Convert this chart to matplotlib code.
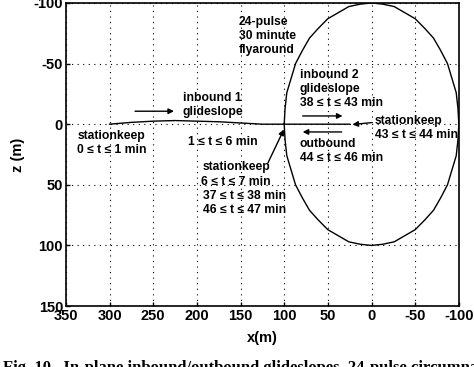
import matplotlib
matplotlib.use("Agg")
import matplotlib.pyplot as plt

# glideslope trajectory (inbound 1 then inbound 2)
glide_x = [300, 275, 250, 225, 200, 175, 150, 125, 100, 75, 50, 25]
glide_z = [0, -1.5, -2.5, -3, -2.5, -2, -1, 0, 0, 0, 0, 0]

# flyaround loop
loop_x = [100, 99, 97, 92, 87, 79, 71, 61, 50, 38, 26, 13, 0, -13, -26, -38, -50, -61, -71, -79,
          -87, -92, -97, -99, -100, -99, -97, -92, -87, -79, -71, -61, -50, -38, -26, -13, 0,
          13, 26, 38, 50, 61, 71, 79, 87, 92, 97, 99, 100]
loop_z = [0, 13, 26, 38, 50, 61, 71, 79, 87, 92, 97, 99, 100, 99, 97, 92, 87, 79, 71, 61, 50,
          38, 26, 13, 0, -13, -26, -38, -50, -61, -71, -79, -87, -92, -97, -99, -100, -99, -97,
          -92, -87, -79, -71, -61, -50, -38, -26, -13, 0]

x_ticks = [350, 300, 250, 200, 150, 100, 50, 0, -50, -100]
x_tick_labels = ["350", "300", "250", "200", "150", "100", "50", "0", "-50", "-100"]
z_ticks = [-100, -50, 0, 50, 100, 150]
z_tick_labels = ["-100", "-50", "0", "50", "100", "150"]

plt.rcParams['font.family'] = ['Liberation Sans', 'DejaVu Sans']

fig = plt.figure(figsize=(4.74, 3.67), dpi=100)
ax = fig.add_axes([0.139, 0.166, 0.829, 0.826])

ax.plot(glide_x, glide_z, color='black', lw=1.0)
ax.plot(loop_x, loop_z, color='black', lw=1.0)

ax.set_xlim(350, -100)
ax.set_ylim(150, -100)
ax.set_xticks(x_ticks)
ax.set_xticklabels(x_tick_labels)
ax.set_yticks(z_ticks)
ax.set_yticklabels(z_tick_labels)
ax.tick_params(direction='in', labelsize=10.5, length=3, width=1, pad=2)
for lbl in ax.get_xticklabels() + ax.get_yticklabels():
    lbl.set_fontweight('bold')
ax.grid(True, color='black', linestyle=(0, (1, 4)), lw=0.8)
for s in ax.spines.values():
    s.set_linewidth(1.2)

ax.set_xlabel("x(m)", fontsize=10.5, fontweight='bold', labelpad=6)
ax.set_ylabel("z (m)", fontsize=10.5, fontweight='bold', labelpad=6)

fs = 8.7
kw = dict(fontsize=fs, fontweight='bold', ha='left', va='center', linespacing=1.45)
ax.text(152, -84, "24-pulse", **kw)
ax.text(152, -72.5, "30 minute", **kw)
ax.text(152, -61, "flyaround", **kw)
ax.text(216, -21.6, "inbound 1", **kw)
ax.text(216, -10, "glideslope", **kw)
ax.text(337, 9.7, "stationkeep", **kw)
ax.text(337, 21.3, "0 ≤ t ≤ 1 min", **kw)
ax.text(210, 14.7, "1 ≤ t ≤ 6 min", **kw)
ax.text(193, 35.3, "stationkeep", **kw)
ax.text(195, 47.7, "6 ≤ t ≤ 7 min", **kw)
ax.text(193, 59.2, "37 ≤ t ≤ 38 min", **kw)
ax.text(193, 70.8, "46 ≤ t ≤ 47 min", **kw)
ax.text(82, -40.6, "inbound 2", **kw)
ax.text(82, -29, "glideslope", **kw)
ax.text(82, -17.5, "38 ≤ t ≤ 43 min", **kw)
ax.text(82, 16.3, "outbound", **kw)
ax.text(82, 27.9, "44 ≤ t ≤ 46 min", **kw)
ax.text(-4, -2.6, "stationkeep", **kw)
ax.text(-4, 8.9, "43 ≤ t ≤ 44 min", **kw)

ap = dict(arrowstyle='-|>', color='black', lw=1.0, mutation_scale=8)
ax.annotate("", xy=(223, -10.7), xytext=(274, -10.7), arrowprops=ap)
ax.annotate("", xy=(30, -6.8), xytext=(82, -6.8), arrowprops=ap)
ax.annotate("", xy=(82, 6.4), xytext=(31, 6.4), arrowprops=ap)
ax.annotate("", xy=(99, 2.3), xytext=(120, 34), arrowprops=ap)
ax.annotate("", xy=(25, 0.5), xytext=(-3, -1.5), arrowprops=ap)

fig.text(0.006, -0.013, "Fig. 10   In-plane inbound/outbound glideslopes, 24-pulse circumnavigation",
         fontsize=12, fontweight='bold', family='Liberation Serif', ha='left', va='baseline')

fig.savefig("out.png", dpi=100)
